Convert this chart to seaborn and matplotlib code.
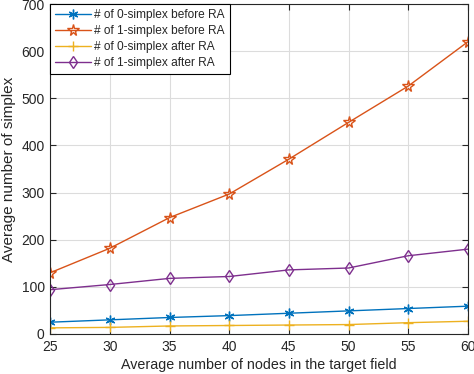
import matplotlib
matplotlib.use("Agg")
import matplotlib.pyplot as plt
import seaborn as sns

# data
nodes = [25, 30, 35, 40, 45, 50, 55, 60]
zero_before = [25, 30, 35, 39, 44, 49, 54, 59]
one_before = [130, 182, 247, 297, 371, 449, 526, 620]
zero_after = [13, 14, 17, 18, 19, 20, 24, 27]
one_after = [94, 105, 118, 122, 136, 140, 166, 180]

labels = ["# of 0-simplex before RA", "# of 1-simplex before RA",
          "# of 0-simplex after RA", "# of 1-simplex after RA"]
series = [zero_before, one_before, zero_after, one_after]
colors = ["#0072BD", "#D95319", "#EDB120", "#7E2F8E"]
markers = [(6, 2, 0), "*", "+", "d"]
msizes = [7, 8.5, 7, 6]

sns.set_style("ticks")
plt.rcParams["font.family"] = ["Liberation Sans", "DejaVu Sans"]

fig = plt.figure(figsize=(4.74, 3.74), dpi=100)
ax = fig.add_axes([0.106, 0.107, 0.881, 0.882])

for vals, lab, c, m, ms in zip(series, labels, colors, markers, msizes):
    sns.lineplot(x=nodes, y=vals, ax=ax, color=c, marker=m, markersize=ms,
                 markerfacecolor="none", markeredgecolor=c, markeredgewidth=1.0,
                 linewidth=1.0, label=lab)

ax.set_xlim(25, 60)
ax.set_ylim(0, 700)
ax.set_xticks(nodes)
ax.set_yticks(range(0, 701, 100))
ax.grid(True, color="#dcdcdc", linewidth=0.8)
ax.tick_params(direction="in", labelsize=10, colors="#262626", length=4,
               top=True, right=True, pad=4)
for sp in ax.spines.values():
    sp.set_visible(True)
    sp.set_color("#262626")
    sp.set_linewidth(0.8)
ax.set_xlabel("Average number of nodes in the target field", fontsize=10.3, color="#262626", labelpad=3)
ax.set_ylabel("Average number of simplex", fontsize=11, color="#262626", labelpad=4)

leg = ax.legend(loc="upper left", borderaxespad=0, fontsize=8.6, handlelength=3.0,
                fancybox=False, framealpha=1, edgecolor="black",
                borderpad=0.4, labelspacing=0.35, handletextpad=0.3)
leg.get_frame().set_linewidth(0.8)

fig.savefig("out.png", dpi=100)
